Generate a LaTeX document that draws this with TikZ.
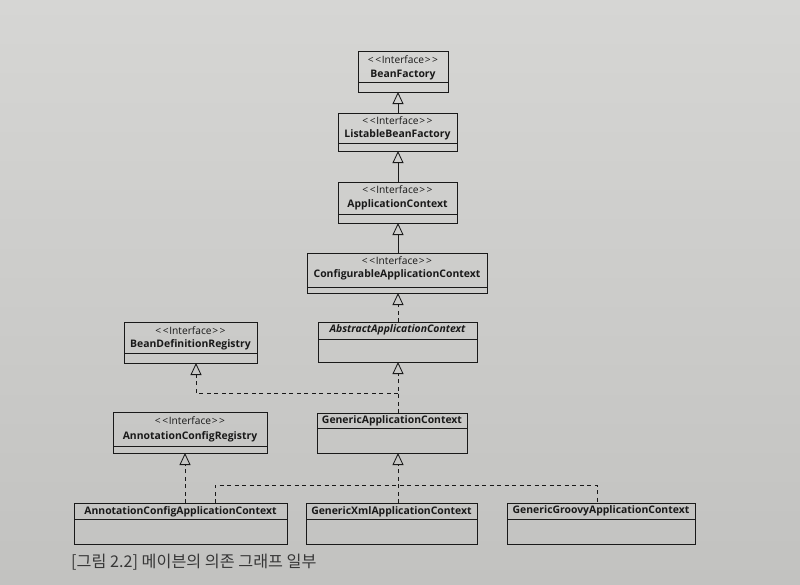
\documentclass[tikz,border=0pt]{standalone}
\usepackage{fontspec}
\setmainfont{Open Sans}
\newfontfamily\krfont{Noto Sans CJK KR}
\usetikzlibrary{arrows.meta}
\definecolor{paperA}{RGB}{214,214,212}
\definecolor{paperB}{RGB}{194,194,192}
\definecolor{ink}{RGB}{25,25,25}
\definecolor{captink}{RGB}{55,55,55}
\newcommand\stereo{<\kern1.6pt<\kern0.6pt Interface\kern0.6pt>\kern1.6pt>}
\newcommand\umlbox[6]{%
  \node[box, minimum width={(#4-#2)*1pt}, minimum height={(#5-#3)*1pt}] (#1) at (#2,#3) {};
  \draw[sepline] (#1.west |- 0,#6) -- (#1.east |- 0,#6);}
\begin{document}
\begin{tikzpicture}[x=1pt,y=-1pt,
  box/.style={draw=ink, line width=0.95pt, inner sep=0pt, outer sep=0pt, anchor=north west},
  sepline/.style={draw=ink, line width=0.85pt},
  stxt/.style={font=\fontsize{10.2}{11}\selectfont, text=ink, inner sep=0pt},
  ntxt/.style={font=\fontsize{10.4}{11}\selectfont\bfseries, text=ink, inner sep=0pt},
  inh/.style={draw=ink, line width=0.85pt, -{Triangle[open, width=11pt, length=12pt, line width=0.85pt]}},
  real/.style={inh, dash pattern=on 4pt off 3.5pt},
  rline/.style={draw=ink, line width=0.85pt, dash pattern=on 4pt off 3.5pt}]
\shade[top color=paperA, bottom color=paperB] (0,0) rectangle (800,584);
\useasboundingbox (0,0) rectangle (800,584);
% boxes
\umlbox{BF}{358}{51}{448}{92}{82}
\umlbox{LBF}{338}{113}{457}{151}{143}
\umlbox{AC}{338}{182}{457}{223}{214}
\umlbox{CAC}{307}{253}{487}{293}{287}
\umlbox{AAC}{318}{322}{477}{362}{339}
\umlbox{BDR}{124}{322}{257}{363}{353}
\umlbox{GAC}{317}{413}{467}{453}{428}
\umlbox{ACR}{113}{412}{267}{453}{446}
\umlbox{ACAC}{74}{503}{287}{544}{519}
\umlbox{GXAC}{306}{503}{477}{544}{519}
\umlbox{GGAC}{507}{503}{695}{544}{519}
% texts
\node[stxt] (BFs) at (403,60) {\stereo};
\node[ntxt] (BFn) at (403,75) {BeanFactory};
\node[stxt] (LBFs) at (397.5,121) {\stereo};
\node[ntxt] (LBFn) at (397.5,135) {ListableBeanFactory};
\node[stxt] (ACs) at (397.5,190) {\stereo};
\node[ntxt] (ACn) at (397.5,205) {ApplicationContext};
\node[stxt] (CACs) at (397,261) {\stereo};
\node[ntxt] (CACn) at (397,275) {ConfigurableApplicationContext};
\node[ntxt] (AACn) at (397.5,330) {\itshape AbstractApplicationContext};
\node[stxt] (BDRs) at (190.5,331) {\stereo};
\node[ntxt] (BDRn) at (190.5,345) {BeanDefinitionRegistry};
\node[ntxt] (GACn) at (392,421) {GenericApplicationContext};
\node[stxt] (ACRs) at (190,421) {\stereo};
\node[ntxt] (ACRn) at (190,437) {AnnotationConfigRegistry};
\node[ntxt] (ACACn) at (180.5,511.5) {AnnotationConfigApplicationContext};
\node[ntxt] (GXACn) at (391.5,511.5) {GenericXmlApplicationContext};
\node[ntxt] (GGACn) at (601,511) {GenericGroovyApplicationContext};
% helper coordinates
\coordinate (spine) at (398,0);
\coordinate (bdrx) at (196,0);
\coordinate (acrx) at (185,0);
\coordinate (acacx) at (215,0);
\coordinate (ggacx) at (597,0);
\coordinate (j1) at (0,393);
\coordinate (j2) at (0,485);
% connectors
\draw[inh] (spine |- LBF.north) -- (spine |- BF.south);
\draw[inh] (spine |- AC.north) -- (spine |- LBF.south);
\draw[inh] (spine |- CAC.north) -- (spine |- AC.south);
\draw[real] (spine |- AAC.north) -- (spine |- CAC.south);
\draw[real] (spine |- GAC.north) -- (spine |- AAC.south);
\draw[real] (spine |- j1) -- (bdrx |- j1) -- (bdrx |- BDR.south);
\draw[real] (acrx |- ACAC.north) -- (acrx |- ACR.south);
\draw[real] (spine |- GXAC.north) -- (spine |- GAC.south);
\draw[rline] (acacx |- ACAC.north) -- (acacx |- j2) -- (ggacx |- j2) -- (ggacx |- GGAC.north);
% caption
\node[anchor=west, inner sep=0pt, text=captink, font=\krfont\fontsize{16.2}{18}\selectfont] (cap) at (71,562) {[그림 2.2] 메이븐의 의존 그래프 일부};
\end{tikzpicture}
\end{document}
